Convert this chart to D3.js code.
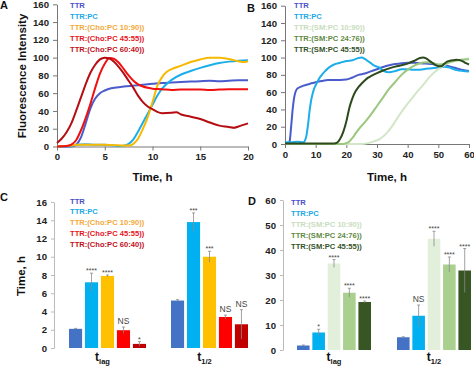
<!DOCTYPE html>
<html>
<head>
<meta charset="utf-8">
<script src="https://cdn.jsdelivr.net/npm/d3@7"></script>
<style>
  body { margin: 0; background: #fff; }
  svg { display: block; font-family: "Liberation Sans", Arial, sans-serif; }
  .tick text { font-weight: bold; fill: #222; }
</style>
</head>
<body>
<svg id="chart" width="474" height="367"></svg>
<script>
// ---- panel A : kinetics, cholesterol series (time h, intensity)
const timeTicksA = [0, 5, 10, 15, 20];
const timeTicksB = [0, 10, 20, 30, 40, 50, 60];
const intensityTicks = [0, 20, 40, 60, 80, 100, 120, 140, 160];

const namesA = ["TTR", "TTR:PC", "TTR:(Cho:PC 10:90))", "TTR:(Cho:PC 45:55))", "TTR:(Cho:PC 60:40))"];
const namesB = ["TTR", "TTR:PC", "TTR:(SM:PC 10:90))", "TTR:(SM:PC 24:76))", "TTR:(SM:PC 45:55))"];

const a_ttr = [[0,0],[1.5,0],[2,2],[2.5,10],[3,26],[3.5,43],[4,54],[4.5,60],[5,63],[5.5,65],[6,66],[7,67.5],[8,68.5],[9,69.5],[10,70.5],[11,71.5],[12,72],[13,72.5],[14,73],[15,73.5],[16,74],[17,73.5],[18,74],[19,74.5],[20,74.5]];
const a_pc = [[0,0],[1.5,0.5],[2,2],[3,2.5],[4,2],[5,2],[6,1],[6.5,0.5],[7,1],[7.5,3],[8,8],[8.5,17],[9,27],[9.5,37],[10,47],[10.5,57],[11,65],[12,75],[13,81],[14,85],[15,88.5],[16,91.5],[17,94],[18,95.5],[19,96.5],[20,97]];
const a_cho10 = [[0,0],[1.5,1],[2,2],[3,2],[4,2],[5,2],[6,1.5],[7,1],[7.5,1],[8,3],[8.5,9],[9,20],[9.5,33],[10,50],[10.5,68],[11,78],[11.5,84],[12,87],[13,91],[14,95],[15,98],[16,100],[17,100],[18,98.5],[19,96],[19.5,95],[20,96]];
const a_cho45 = [[0,0],[1,0.5],[1.5,2],[2,7],[2.5,18],[3,32],[3.5,48],[4,66],[4.5,82],[5,93],[5.5,99.5],[6,98.5],[6.5,94],[7,87],[7.5,80],[8,74],[8.5,70],[9,67.5],[9.5,66],[10,65],[11,64.5],[12,63.5],[13,64],[14,64],[15,64],[16,63.5],[17,64],[18,64.5],[19,64.5],[20,64.5]];
const a_cho60 = [[0,4],[0.5,9],[1,16],[1.5,26],[2,40],[2.5,55],[3,70],[3.5,83],[4,92],[4.5,98],[5,100],[5.5,99],[6,95],[6.5,89],[7,82],[7.5,74],[8,66],[8.5,57],[9,50],[9.5,45],[10,42],[10.5,39],[11,37.5],[12,38],[12.5,38.5],[13,36],[14,33.5],[15,31],[16,27],[17,23.5],[18,22],[18.5,21],[19,22.5],[20,26]];

// ---- panel B : kinetics, sphingomyelin series
const b_ttr = [[0,0],[1,0],[1.5,3],[2,20],[2.5,40],[3,54],[3.5,61],[4,64],[5,66],[6,67.5],[8,69.5],[10,71.5],[12,73],[14,74],[16,74],[18,74],[20,74.5],[22,77],[24,80],[26,81.5],[28,84],[30,86.5],[32,89],[34,91],[36,92.5],[38,93.5],[40,94],[42,94],[44,93.5],[46,93],[48,92.5],[50,91.5],[52,91],[54,89.5],[56,87.5],[58,85.5],[60,84.5]];
const b_pc = [[0,2],[2,2],[4,2.5],[6,2],[6.5,4],[7,10],[7.5,22],[8,38],[8.5,50],[9,58],[9.5,64],[10,68],[11,75],[12,80],[13,84],[14,87.5],[15,90],[16,92],[18,94],[20,96],[22,97],[24,99.5],[25,100],[26,98.5],[27,96],[28,93.5],[29,91],[30,89.5],[31,88],[32,85],[34,83],[36,84.5],[38,86.5],[40,86.5],[42,86],[44,86],[46,87],[48,87.5],[50,88.5],[52,89.5],[54,88],[56,85.5],[58,84.5],[60,84]];
const b_sm10 = [[0,0],[25,0],[27,1],[29,3],[31,6],[33,12],[35,21],[37,32],[39,42],[41,51],[43,60],[45,68],[47,77],[49,84],[51,89],[53,93],[55,96],[57,97.5],[59,98.5],[60,99]];
const b_sm24 = [[0,0],[19,0],[20,1],[21,3],[22,7],[23,12],[24,17],[26,25],[28,34],[30,44],[32,54],[34,64],[36,72],[38,80],[40,86],[42,90.5],[44,93.5],[46,94.5],[48,94],[50,92],[52,92.5],[54,95],[56,96.5],[58,97.5],[60,98]];
const b_sm45 = [[0,0.5],[16,0.5],[17,1.5],[18,6],[19,14],[20,26],[21,42],[22,53],[23,61],[24,66],[25,70],[26,73.5],[27,76.5],[28,78.5],[30,82],[32,85],[34,87.5],[36,89.5],[38,91],[40,93],[42,96],[44,99.5],[45,100],[46,99],[47,96.5],[48,94],[49,91.5],[50,90],[51,90],[52,93],[53,95.5],[54,96.5],[55,97],[56,97.5],[57,97],[58,95.5],[59,93.5],[60,92]];

// ---- panels C and D : lag time and half time (h)
const params = ["lag", "1/2"];
const timeTicksC = [0, 2, 4, 6, 8, 10, 12, 14, 16];
const timeTicksD = [0, 10, 20, 30, 40, 50, 60];

const c_mean = [[2.1, 7.2, 7.9, 1.95, 0.45], [5.2, 13.8, 10.0, 3.4, 2.6]];
const c_err  = [[0.05, 1.0, 0.1, 0.35, 0.25], [0.1, 1.0, 0.6, 0.2, 1.6]];
const c_sig  = [["", "****", "****", "NS", "*"], ["", "***", "***", "NS", "NS"]];

const d_mean = [[1.8, 7.0, 34.6, 22.9, 19.2], [5.1, 13.7, 44.5, 34.2, 31.8]];
const d_err  = [[0.2, 1.3, 1.6, 1.8, 0.4], [0.2, 4.3, 3.0, 3.0, 8.8]];
const d_sig  = [["", "*", "****", "****", "****"], ["", "NS", "****", "****", "****"]];

// couleurs
const lineColA = ["#4a5ccb", "#1caeea", "#f7b900", "#f01010", "#b50d12"];
const lineColB = ["#4a5ccb", "#1caeea", "#d3e6c9", "#9cc77f", "#2c4a1b"];
const textColA = ["#4b4fc8", "#21a9e6", "#f3a93a", "#e8141c", "#c0101a"];
const textColB = ["#4b4fc8", "#21a9e6", "#c9ddbd", "#5f8a45", "#35542a"];
const barColC = ["#4472c4", "#00b0f0", "#ffc000", "#ff0000", "#c00000"];
const barColD = ["#4472c4", "#00b0f0", "#e2efda", "#a9d08e", "#375623"];

const svg = d3.select("#chart");

function panelLetter(txt, x, y) {
    svg.append("text").attr("x", x).attr("y", y)
        .attr("font-size", 11).attr("font-weight", "bold").attr("fill", "#111")
        .text(txt);
}

function legend(names, cols, x, y0, step) {
    const g = svg.append("g");
    names.forEach((n, i) => {
        g.append("text")
            .attr("x", x).attr("y", y0 + i * step)
            .attr("font-size", 7.6).attr("font-weight", "bold")
            .attr("fill", cols[i])
            .text(n);
    });
}

// ---------- line panels
function linePanel(opts) {
    const x = d3.scaleLinear().domain(opts.xDomain).range(opts.xRange);
    const y = d3.scaleLinear().domain([0, 160]).range(opts.yRange);
    const g = svg.append("g");

    g.append("g")
        .attr("transform", `translate(0,${opts.yRange[0]})`)
        .call(d3.axisBottom(x).tickValues(opts.xTicks).tickSize(4).tickPadding(3).tickSizeOuter(0))
        .call(a => a.selectAll("line,path").attr("stroke", "#777"))
        .call(a => a.selectAll("text").attr("font-size", 9.6).attr("font-family", null));

    g.append("g")
        .attr("transform", `translate(${opts.xRange[0]},0)`)
        .call(d3.axisLeft(y).tickValues(intensityTicks).tickSize(4).tickPadding(4).tickSizeOuter(0))
        .call(a => a.selectAll("line,path").attr("stroke", "#777"))
        .call(a => a.selectAll("text").attr("font-size", 9.6).attr("font-family", null));

    const line = d3.line()
        .x(d => x(d[0]))
        .y(d => y(d[1]))
        .curve(d3.curveMonotoneX);

    opts.series.forEach((s, i) => {
        g.append("path")
            .datum(s)
            .attr("fill", "none")
            .attr("stroke", opts.colors[i])
            .attr("stroke-width", 2)
            .attr("stroke-linejoin", "round")
            .attr("d", line);
    });

    g.append("text")
        .attr("x", (opts.xRange[0] + opts.xRange[1]) / 2 + opts.titleShift)
        .attr("y", 181)
        .attr("text-anchor", "middle")
        .attr("font-size", 11.5).attr("font-weight", "bold").attr("fill", "#111")
        .text("Time, h");
}

linePanel({
    xDomain: [0, 20], xRange: [57, 248], yRange: [146.5, 4.3], xTicks: timeTicksA,
    series: [a_ttr, a_pc, a_cho10, a_cho45, a_cho60], colors: lineColA, titleShift: 0
});
linePanel({
    xDomain: [0, 60], xRange: [285, 469], yRange: [144, 5.7], xTicks: timeTicksB,
    series: [b_ttr, b_pc, b_sm10, b_sm24, b_sm45], colors: lineColB, titleShift: 10
});

svg.append("text")
    .attr("transform", "translate(26,76) rotate(-90)")
    .attr("text-anchor", "middle")
    .attr("font-size", 11.5).attr("font-weight", "bold").attr("fill", "#111")
    .text("Fluorescence Intensity");

legend(namesA, textColA, 70, 8.3, 11);
legend(namesB, textColB, 294, 8.3, 11);
panelLetter("A", 0, 9);
panelLetter("B", 247, 12);

// ---------- bar panels
function barPanel(opts) {
    const x0 = d3.scaleBand().domain(params).range(opts.xRange);
    const x1 = d3.scaleBand().domain(d3.range(5)).range([0, opts.groupWidth]).paddingInner(0.18);
    const y = d3.scaleLinear().domain([0, opts.yMax]).range(opts.yRange);
    const g = svg.append("g");

    g.append("g")
        .attr("transform", `translate(${opts.axisX},0)`)
        .call(d3.axisLeft(y).tickValues(opts.yTicks).tickSize(3).tickPadding(4).tickSizeOuter(0))
        .call(a => a.selectAll("line,path").attr("stroke", "#bbb"))
        .call(a => a.selectAll("text").attr("font-size", 9.6).attr("font-family", null));

    params.forEach((p, pi) => {
        const gx = x0(p) + x0.bandwidth() / 2 - opts.groupWidth / 2;
        const grp = g.append("g").attr("transform", `translate(${gx},0)`);
        const rows = opts.mean[pi].map((m, i) => ({ i, m, e: opts.err[pi][i], s: opts.sig[pi][i] }));

        grp.selectAll("rect").data(rows).join("rect")
            .attr("x", d => x1(d.i))
            .attr("y", d => y(d.m))
            .attr("width", x1.bandwidth())
            .attr("height", d => y(0) - y(d.m))
            .attr("fill", d => opts.colors[d.i]);

        const eb = grp.selectAll("g.err").data(rows).join("g").attr("class", "err")
            .attr("stroke", "#8a8a8a").attr("stroke-width", 0.8);
        eb.append("line")
            .attr("x1", d => x1(d.i) + x1.bandwidth() / 2).attr("x2", d => x1(d.i) + x1.bandwidth() / 2)
            .attr("y1", d => y(d.m - d.e)).attr("y2", d => y(d.m + d.e));
        eb.append("line")
            .attr("x1", d => x1(d.i) + x1.bandwidth() / 2 - 1.5).attr("x2", d => x1(d.i) + x1.bandwidth() / 2 + 1.5)
            .attr("y1", d => y(d.m + d.e)).attr("y2", d => y(d.m + d.e));

        grp.selectAll("text.sig").data(rows.filter(d => d.s)).join("text").attr("class", "sig")
            .attr("x", d => x1(d.i) + x1.bandwidth() / 2)
            .attr("y", d => y(d.m + d.e) - (d.s === "NS" ? 3 : 0))
            .attr("text-anchor", "middle")
            .attr("font-size", d => d.s === "NS" ? 8.5 : 7)
            .attr("fill", "#444")
            .text(d => d.s);

        // étiquette t_lag / t_1/2
        const lab = g.append("text")
            .attr("x", x0(p) + x0.bandwidth() / 2 + opts.labelShift)
            .attr("y", 361)
            .attr("text-anchor", "middle")
            .attr("font-weight", "bold").attr("fill", "#111");
        lab.append("tspan").attr("font-size", 12).text("t");
        lab.append("tspan").attr("font-size", 7.5).attr("dy", 2.5).text(p);
    });
}

barPanel({
    xRange: [56.5, 260.5], groupWidth: 77, yMax: 16, yRange: [348, 202], yTicks: timeTicksC,
    mean: c_mean, err: c_err, sig: c_sig, colors: barColC, axisX: 54, labelShift: -5
});
barPanel({
    xRange: [284, 484], groupWidth: 74, yMax: 60, yRange: [350, 200], yTicks: timeTicksD,
    mean: d_mean, err: d_err, sig: d_sig, colors: barColD, axisX: 283, labelShift: 0
});

svg.append("text")
    .attr("transform", "translate(25,276) rotate(-90)")
    .attr("text-anchor", "middle")
    .attr("font-size", 11.5).attr("font-weight", "bold").attr("fill", "#111")
    .text("Time, h");

legend(namesA, textColA, 70, 203.5, 10.8);
legend(namesB, textColB, 291, 204.5, 11);
panelLetter("C", 0, 201);
panelLetter("D", 248, 205);
</script>
</body>
</html>
